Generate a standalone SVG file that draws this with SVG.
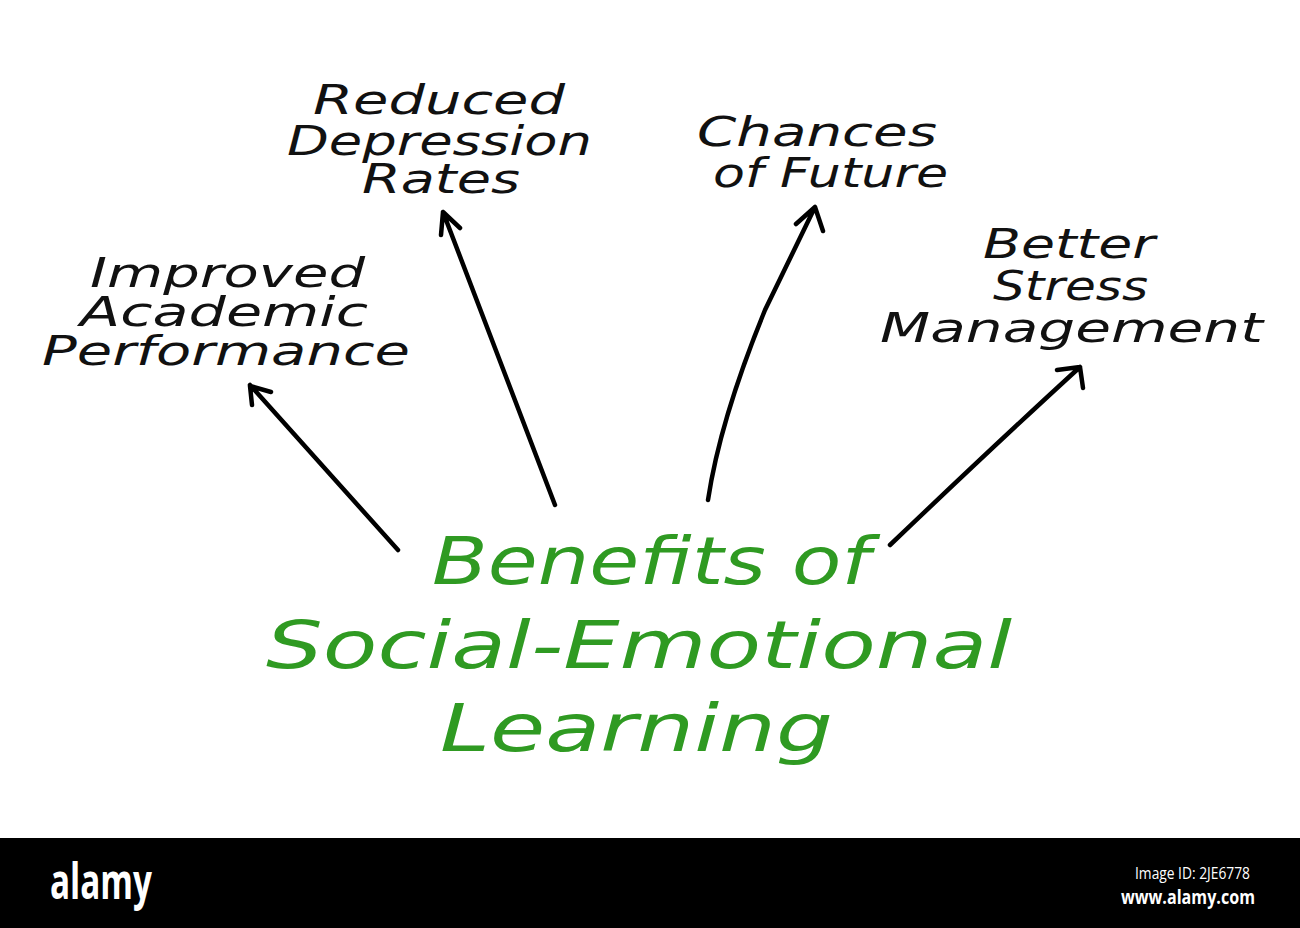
<svg xmlns="http://www.w3.org/2000/svg" width="1300" height="928" viewBox="0 0 1300 928">
<style>
.lbl{font-family:"DejaVu Sans",sans-serif;font-style:italic;font-size:40px;fill:#111}
.main{font-family:"DejaVu Sans",sans-serif;font-style:italic;font-size:66px;fill:#2f9a22}
.arr{fill:none;stroke:#000;stroke-width:4.5;stroke-linecap:round;stroke-linejoin:round}
.wm{font-family:"Open Sans","DejaVu Sans",sans-serif;fill:#fff}
</style>
<rect width="1300" height="928" fill="#fff"/>
<g id="connectors">
<path class="arr" d="M398,550 L250,385 M252,405 L250,386 L271,392"/>
<path class="arr" d="M555,505 L443,212 M441,235 L443,212 L460,228"/>
<path class="arr" d="M708,500 Q720,420 765,310 L815,207 M796,224 L815,207 L823,231"/>
<path class="arr" d="M890,545 Q1000,440 1080,367 M1057,370 L1080,367 L1083,388"/>
</g>
<g id="node-improved">
<text class="lbl" x="90" y="287" textLength="275" lengthAdjust="spacingAndGlyphs">Improved</text>
<text class="lbl" x="80" y="326" textLength="288" lengthAdjust="spacingAndGlyphs">Academic</text>
<text class="lbl" x="42" y="365" textLength="368" lengthAdjust="spacingAndGlyphs">Performance</text>
</g>
<g id="node-reduced">
<text class="lbl" x="313" y="114" textLength="252" lengthAdjust="spacingAndGlyphs">Reduced</text>
<text class="lbl" x="287" y="155" textLength="305" lengthAdjust="spacingAndGlyphs">Depression</text>
<text class="lbl" x="362" y="193" textLength="158" lengthAdjust="spacingAndGlyphs">Rates</text>
</g>
<g id="node-chances">
<text class="lbl" x="697" y="146" textLength="240" lengthAdjust="spacingAndGlyphs">Chances</text>
<text class="lbl" x="713" y="187" textLength="235" lengthAdjust="spacingAndGlyphs">of Future</text>
</g>
<g id="node-stress">
<text class="lbl" x="983" y="258" textLength="172" lengthAdjust="spacingAndGlyphs">Better</text>
<text class="lbl" x="993" y="300" textLength="155" lengthAdjust="spacingAndGlyphs">Stress</text>
<text class="lbl" x="880" y="342" textLength="383" lengthAdjust="spacingAndGlyphs">Management</text>
</g>
<g id="node-center">
<text class="main" x="432" y="584" textLength="438" lengthAdjust="spacingAndGlyphs">Benefits of</text>
<text class="main" x="266" y="668" textLength="746" lengthAdjust="spacingAndGlyphs">Social-Emotional</text>
<text class="main" x="440" y="751" textLength="393" lengthAdjust="spacingAndGlyphs">Learning</text>
</g>
<g id="watermark">
<rect x="0" y="838" width="1300" height="90" fill="#000"/>
<text class="wm" x="50" y="899" font-size="50" font-weight="bold" textLength="102" lengthAdjust="spacingAndGlyphs">alamy</text>
<text class="wm" x="1135" y="879" font-size="17" textLength="115" lengthAdjust="spacingAndGlyphs">Image ID: 2JE6778</text>
<text class="wm" x="1121" y="904" font-size="20" font-weight="bold" textLength="134" lengthAdjust="spacingAndGlyphs">www.alamy.com</text>
</g>
</svg>
